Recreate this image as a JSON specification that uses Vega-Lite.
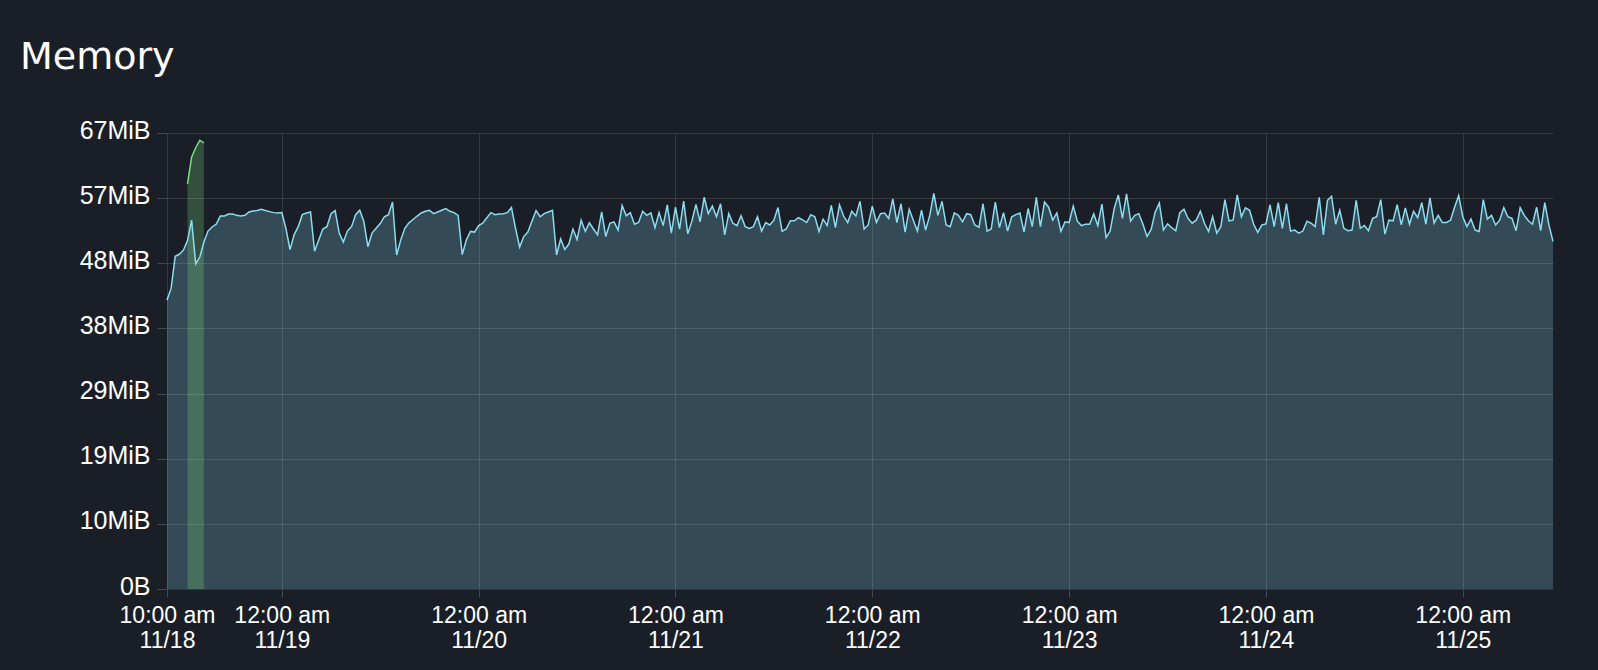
{
"$schema":"https://vega.github.io/schema/vega-lite/v6.json",
"width":1386,"height":456,
"autosize":{"type":"none"},
"padding":{"left":167,"top":133,"right":45,"bottom":81},
"background":"#1a1f27",
"title":{"text":"Memory","anchor":"start","frame":"group","dx":-147,"dy":-11,"offset":0,"baseline":"alphabetic","font":"DejaVu Sans","fontSize":38,"fontWeight":"normal","color":"#ffffff"},
"datasets":{
"a":[
{"t":"2024-11-18T10:00","v":42.3},{"t":"2024-11-18T10:30","v":44.0},{"t":"2024-11-18T11:00","v":48.7},{"t":"2024-11-18T11:30","v":49.0},
{"t":"2024-11-18T12:00","v":49.6},{"t":"2024-11-18T12:30","v":51.0},{"t":"2024-11-18T13:00","v":54.0},{"t":"2024-11-18T13:30","v":47.6},
{"t":"2024-11-18T14:00","v":48.6},{"t":"2024-11-18T14:30","v":50.8},{"t":"2024-11-18T15:00","v":52.4},{"t":"2024-11-18T15:30","v":53.0},
{"t":"2024-11-18T16:00","v":53.4},{"t":"2024-11-18T16:30","v":54.6},{"t":"2024-11-18T17:00","v":54.6},{"t":"2024-11-18T17:30","v":54.9},
{"t":"2024-11-18T18:00","v":54.9},{"t":"2024-11-18T18:30","v":54.7},{"t":"2024-11-18T19:00","v":54.6},{"t":"2024-11-18T19:30","v":54.7},
{"t":"2024-11-18T20:00","v":55.2},{"t":"2024-11-18T20:30","v":55.35},{"t":"2024-11-18T21:00","v":55.4},{"t":"2024-11-18T21:30","v":55.6},
{"t":"2024-11-18T22:00","v":55.4},{"t":"2024-11-18T22:30","v":55.25},{"t":"2024-11-18T23:00","v":55.1},{"t":"2024-11-18T23:30","v":55.05},
{"t":"2024-11-19T00:00","v":55.1},{"t":"2024-11-19T00:30","v":52.8},{"t":"2024-11-19T01:00","v":49.7},{"t":"2024-11-19T01:30","v":51.85},
{"t":"2024-11-19T02:00","v":53.05},{"t":"2024-11-19T02:30","v":54.8},{"t":"2024-11-19T03:00","v":55.05},{"t":"2024-11-19T03:30","v":55.2},
{"t":"2024-11-19T04:00","v":49.45},{"t":"2024-11-19T04:30","v":51.1},{"t":"2024-11-19T05:00","v":52.7},{"t":"2024-11-19T05:30","v":53.05},
{"t":"2024-11-19T06:00","v":54.95},{"t":"2024-11-19T06:30","v":55.4},{"t":"2024-11-19T07:00","v":52.1},{"t":"2024-11-19T07:30","v":50.8},
{"t":"2024-11-19T08:00","v":52.4},{"t":"2024-11-19T08:30","v":53.05},{"t":"2024-11-19T09:00","v":54.8},{"t":"2024-11-19T09:30","v":55.45},
{"t":"2024-11-19T10:00","v":53.8},{"t":"2024-11-19T10:30","v":50.1},{"t":"2024-11-19T11:00","v":52.1},{"t":"2024-11-19T11:30","v":52.8},
{"t":"2024-11-19T12:00","v":53.5},{"t":"2024-11-19T12:30","v":54.5},{"t":"2024-11-19T13:00","v":54.8},{"t":"2024-11-19T13:30","v":56.65},
{"t":"2024-11-19T14:00","v":48.9},{"t":"2024-11-19T14:30","v":51.1},{"t":"2024-11-19T15:00","v":52.8},{"t":"2024-11-19T15:30","v":53.6},
{"t":"2024-11-19T16:00","v":54.1},{"t":"2024-11-19T16:30","v":54.6},{"t":"2024-11-19T17:00","v":55.05},{"t":"2024-11-19T17:30","v":55.3},
{"t":"2024-11-19T18:00","v":55.45},{"t":"2024-11-19T18:30","v":54.95},{"t":"2024-11-19T19:00","v":55.2},{"t":"2024-11-19T19:30","v":55.45},
{"t":"2024-11-19T20:00","v":55.7},{"t":"2024-11-19T20:30","v":55.3},{"t":"2024-11-19T21:00","v":55.1},{"t":"2024-11-19T21:30","v":54.7},
{"t":"2024-11-19T22:00","v":48.95},{"t":"2024-11-19T22:30","v":51.1},{"t":"2024-11-19T23:00","v":52.35},{"t":"2024-11-19T23:30","v":52.25},
{"t":"2024-11-20T00:00","v":53.2},{"t":"2024-11-20T00:30","v":53.55},{"t":"2024-11-20T01:00","v":54.35},{"t":"2024-11-20T01:30","v":55.1},
{"t":"2024-11-20T02:00","v":54.8},{"t":"2024-11-20T02:30","v":54.9},{"t":"2024-11-20T03:00","v":54.95},{"t":"2024-11-20T03:30","v":55.1},
{"t":"2024-11-20T04:00","v":55.85},{"t":"2024-11-20T04:30","v":52.8},{"t":"2024-11-20T05:00","v":50.05},{"t":"2024-11-20T05:30","v":51.6},
{"t":"2024-11-20T06:00","v":52.25},{"t":"2024-11-20T06:30","v":53.85},{"t":"2024-11-20T07:00","v":55.4},{"t":"2024-11-20T07:30","v":54.5},
{"t":"2024-11-20T08:00","v":54.95},{"t":"2024-11-20T08:30","v":55.2},{"t":"2024-11-20T09:00","v":55.45},{"t":"2024-11-20T09:30","v":48.9},
{"t":"2024-11-20T10:00","v":51.25},{"t":"2024-11-20T10:30","v":49.7},{"t":"2024-11-20T11:00","v":50.5},{"t":"2024-11-20T11:30","v":52.7},
{"t":"2024-11-20T12:00","v":51.15},{"t":"2024-11-20T12:30","v":54.0},{"t":"2024-11-20T13:00","v":52.35},{"t":"2024-11-20T13:30","v":53.6},
{"t":"2024-11-20T14:00","v":52.7},{"t":"2024-11-20T14:30","v":51.85},{"t":"2024-11-20T15:00","v":55.2},{"t":"2024-11-20T15:30","v":51.6},
{"t":"2024-11-20T16:00","v":53.55},{"t":"2024-11-20T16:30","v":53.75},{"t":"2024-11-20T17:00","v":52.55},{"t":"2024-11-20T17:30","v":56.15},
{"t":"2024-11-20T18:00","v":54.65},{"t":"2024-11-20T18:30","v":55.1},{"t":"2024-11-20T19:00","v":53.4},{"t":"2024-11-20T19:30","v":53.65},
{"t":"2024-11-20T20:00","v":55.3},{"t":"2024-11-20T20:30","v":54.7},{"t":"2024-11-20T21:00","v":55.05},{"t":"2024-11-20T21:30","v":52.9},
{"t":"2024-11-20T22:00","v":55.1},{"t":"2024-11-20T22:30","v":53.2},{"t":"2024-11-20T23:00","v":56.25},{"t":"2024-11-20T23:30","v":52.1},
{"t":"2024-11-21T00:00","v":55.9},{"t":"2024-11-21T00:30","v":52.7},{"t":"2024-11-21T01:00","v":56.8},{"t":"2024-11-21T01:30","v":52.0},
{"t":"2024-11-21T02:00","v":53.85},{"t":"2024-11-21T02:30","v":56.3},{"t":"2024-11-21T03:00","v":53.75},{"t":"2024-11-21T03:30","v":57.35},
{"t":"2024-11-21T04:00","v":54.95},{"t":"2024-11-21T04:30","v":56.05},{"t":"2024-11-21T05:00","v":54.5},{"t":"2024-11-21T05:30","v":56.4},
{"t":"2024-11-21T06:00","v":51.85},{"t":"2024-11-21T06:30","v":54.95},{"t":"2024-11-21T07:00","v":53.55},{"t":"2024-11-21T07:30","v":53.2},
{"t":"2024-11-21T08:00","v":54.65},{"t":"2024-11-21T08:30","v":53.05},{"t":"2024-11-21T09:00","v":52.8},{"t":"2024-11-21T09:30","v":53.05},
{"t":"2024-11-21T10:00","v":54.5},{"t":"2024-11-21T10:30","v":52.4},{"t":"2024-11-21T11:00","v":53.65},{"t":"2024-11-21T11:30","v":53.3},
{"t":"2024-11-21T12:00","v":54.0},{"t":"2024-11-21T12:30","v":55.85},{"t":"2024-11-21T13:00","v":52.35},{"t":"2024-11-21T13:30","v":52.7},
{"t":"2024-11-21T14:00","v":53.9},{"t":"2024-11-21T14:30","v":53.9},{"t":"2024-11-21T15:00","v":54.35},{"t":"2024-11-21T15:30","v":54.05},
{"t":"2024-11-21T16:00","v":53.65},{"t":"2024-11-21T16:30","v":54.8},{"t":"2024-11-21T17:00","v":54.5},{"t":"2024-11-21T17:30","v":52.35},
{"t":"2024-11-21T18:00","v":54.15},{"t":"2024-11-21T18:30","v":53.2},{"t":"2024-11-21T19:00","v":56.15},{"t":"2024-11-21T19:30","v":52.9},
{"t":"2024-11-21T20:00","v":56.25},{"t":"2024-11-21T20:30","v":54.6},{"t":"2024-11-21T21:00","v":53.65},{"t":"2024-11-21T21:30","v":55.3},
{"t":"2024-11-21T22:00","v":54.6},{"t":"2024-11-21T22:30","v":56.75},{"t":"2024-11-21T23:00","v":52.7},{"t":"2024-11-21T23:30","v":53.3},
{"t":"2024-11-22T00:00","v":56.05},{"t":"2024-11-22T00:30","v":53.65},{"t":"2024-11-22T01:00","v":54.95},{"t":"2024-11-22T01:30","v":55.05},
{"t":"2024-11-22T02:00","v":54.25},{"t":"2024-11-22T02:30","v":57.1},{"t":"2024-11-22T03:00","v":53.65},{"t":"2024-11-22T03:30","v":56.4},
{"t":"2024-11-22T04:00","v":52.25},{"t":"2024-11-22T04:30","v":55.6},{"t":"2024-11-22T05:00","v":54.0},{"t":"2024-11-22T05:30","v":52.4},
{"t":"2024-11-22T06:00","v":55.45},{"t":"2024-11-22T06:30","v":52.55},{"t":"2024-11-22T07:00","v":54.65},{"t":"2024-11-22T07:30","v":57.9},
{"t":"2024-11-22T08:00","v":54.7},{"t":"2024-11-22T08:30","v":56.75},{"t":"2024-11-22T09:00","v":53.3},{"t":"2024-11-22T09:30","v":53.05},
{"t":"2024-11-22T10:00","v":55.05},{"t":"2024-11-22T10:30","v":54.7},{"t":"2024-11-22T11:00","v":53.75},{"t":"2024-11-22T11:30","v":54.95},
{"t":"2024-11-22T12:00","v":54.8},{"t":"2024-11-22T12:30","v":53.3},{"t":"2024-11-22T13:00","v":52.95},{"t":"2024-11-22T13:30","v":56.4},
{"t":"2024-11-22T14:00","v":52.4},{"t":"2024-11-22T14:30","v":52.7},{"t":"2024-11-22T15:00","v":56.65},{"t":"2024-11-22T15:30","v":52.9},
{"t":"2024-11-22T16:00","v":55.1},{"t":"2024-11-22T16:30","v":52.4},{"t":"2024-11-22T17:00","v":54.5},{"t":"2024-11-22T17:30","v":54.8},
{"t":"2024-11-22T18:00","v":55.05},{"t":"2024-11-22T18:30","v":52.25},{"t":"2024-11-22T19:00","v":55.7},{"t":"2024-11-22T19:30","v":53.05},
{"t":"2024-11-22T20:00","v":57.35},{"t":"2024-11-22T20:30","v":53.05},{"t":"2024-11-22T21:00","v":56.65},{"t":"2024-11-22T21:30","v":55.9},
{"t":"2024-11-22T22:00","v":54.0},{"t":"2024-11-22T22:30","v":55.05},{"t":"2024-11-22T23:00","v":52.35},{"t":"2024-11-22T23:30","v":53.75},
{"t":"2024-11-23T00:00","v":53.65},{"t":"2024-11-23T00:30","v":56.05},{"t":"2024-11-23T01:00","v":53.85},{"t":"2024-11-23T01:30","v":53.2},
{"t":"2024-11-23T02:00","v":53.4},{"t":"2024-11-23T02:30","v":53.4},{"t":"2024-11-23T03:00","v":54.9},{"t":"2024-11-23T03:30","v":53.2},
{"t":"2024-11-23T04:00","v":56.35},{"t":"2024-11-23T04:30","v":51.45},{"t":"2024-11-23T05:00","v":52.4},{"t":"2024-11-23T05:30","v":55.7},
{"t":"2024-11-23T06:00","v":57.7},{"t":"2024-11-23T06:30","v":54.25},{"t":"2024-11-23T07:00","v":57.85},{"t":"2024-11-23T07:30","v":53.85},
{"t":"2024-11-23T08:00","v":54.7},{"t":"2024-11-23T08:30","v":54.95},{"t":"2024-11-23T09:00","v":53.4},{"t":"2024-11-23T09:30","v":51.6},
{"t":"2024-11-23T10:00","v":52.65},{"t":"2024-11-23T10:30","v":55.2},{"t":"2024-11-23T11:00","v":56.5},{"t":"2024-11-23T11:30","v":52.55},
{"t":"2024-11-23T12:00","v":53.45},{"t":"2024-11-23T12:30","v":52.9},{"t":"2024-11-23T13:00","v":52.45},{"t":"2024-11-23T13:30","v":55.1},
{"t":"2024-11-23T14:00","v":55.6},{"t":"2024-11-23T14:30","v":54.25},{"t":"2024-11-23T15:00","v":53.55},{"t":"2024-11-23T15:30","v":54.0},
{"t":"2024-11-23T16:00","v":55.3},{"t":"2024-11-23T16:30","v":53.55},{"t":"2024-11-23T17:00","v":52.35},{"t":"2024-11-23T17:30","v":54.5},
{"t":"2024-11-23T18:00","v":52.1},{"t":"2024-11-23T18:30","v":53.05},{"t":"2024-11-23T19:00","v":57.0},{"t":"2024-11-23T19:30","v":53.9},
{"t":"2024-11-23T20:00","v":54.0},{"t":"2024-11-23T20:30","v":57.7},{"t":"2024-11-23T21:00","v":54.5},{"t":"2024-11-23T21:30","v":55.8},
{"t":"2024-11-23T22:00","v":55.45},{"t":"2024-11-23T22:30","v":53.4},{"t":"2024-11-23T23:00","v":52.2},{"t":"2024-11-23T23:30","v":53.3},
{"t":"2024-11-24T00:00","v":53.45},{"t":"2024-11-24T00:30","v":56.25},{"t":"2024-11-24T01:00","v":53.05},{"t":"2024-11-24T01:30","v":56.55},
{"t":"2024-11-24T02:00","v":52.8},{"t":"2024-11-24T02:30","v":56.4},{"t":"2024-11-24T03:00","v":52.4},{"t":"2024-11-24T03:30","v":52.55},
{"t":"2024-11-24T04:00","v":52.1},{"t":"2024-11-24T04:30","v":52.4},{"t":"2024-11-24T05:00","v":53.85},{"t":"2024-11-24T05:30","v":53.55},
{"t":"2024-11-24T06:00","v":53.05},{"t":"2024-11-24T06:30","v":57.35},{"t":"2024-11-24T07:00","v":51.85},{"t":"2024-11-24T07:30","v":56.9},
{"t":"2024-11-24T08:00","v":57.5},{"t":"2024-11-24T08:30","v":53.4},{"t":"2024-11-24T09:00","v":55.45},{"t":"2024-11-24T09:30","v":52.8},
{"t":"2024-11-24T10:00","v":52.45},{"t":"2024-11-24T10:30","v":52.55},{"t":"2024-11-24T11:00","v":56.9},{"t":"2024-11-24T11:30","v":52.8},
{"t":"2024-11-24T12:00","v":53.2},{"t":"2024-11-24T12:30","v":52.45},{"t":"2024-11-24T13:00","v":54.25},{"t":"2024-11-24T13:30","v":54.5},
{"t":"2024-11-24T14:00","v":57.0},{"t":"2024-11-24T14:30","v":51.95},{"t":"2024-11-24T15:00","v":54.0},{"t":"2024-11-24T15:30","v":53.9},
{"t":"2024-11-24T16:00","v":56.25},{"t":"2024-11-24T16:30","v":53.3},{"t":"2024-11-24T17:00","v":55.8},{"t":"2024-11-24T17:30","v":53.4},
{"t":"2024-11-24T18:00","v":55.3},{"t":"2024-11-24T18:30","v":54.35},{"t":"2024-11-24T19:00","v":56.55},{"t":"2024-11-24T19:30","v":53.4},
{"t":"2024-11-24T20:00","v":57.25},{"t":"2024-11-24T20:30","v":53.55},{"t":"2024-11-24T21:00","v":54.7},{"t":"2024-11-24T21:30","v":53.65},
{"t":"2024-11-24T22:00","v":53.65},{"t":"2024-11-24T22:30","v":54.0},{"t":"2024-11-24T23:00","v":55.9},{"t":"2024-11-24T23:30","v":57.6},
{"t":"2024-11-25T00:00","v":54.5},{"t":"2024-11-25T00:30","v":53.05},{"t":"2024-11-25T01:00","v":54.15},{"t":"2024-11-25T01:30","v":52.55},
{"t":"2024-11-25T02:00","v":52.35},{"t":"2024-11-25T02:30","v":57.0},{"t":"2024-11-25T03:00","v":54.15},{"t":"2024-11-25T03:30","v":54.7},
{"t":"2024-11-25T04:00","v":53.3},{"t":"2024-11-25T04:30","v":54.0},{"t":"2024-11-25T05:00","v":55.85},{"t":"2024-11-25T05:30","v":54.5},
{"t":"2024-11-25T06:00","v":54.25},{"t":"2024-11-25T06:30","v":52.45},{"t":"2024-11-25T07:00","v":55.8},{"t":"2024-11-25T07:30","v":54.7},
{"t":"2024-11-25T08:00","v":53.9},{"t":"2024-11-25T08:30","v":53.4},{"t":"2024-11-25T09:00","v":55.9},{"t":"2024-11-25T09:30","v":52.45},
{"t":"2024-11-25T10:00","v":56.55},{"t":"2024-11-25T10:30","v":53.3},{"t":"2024-11-25T11:00","v":50.9}
],
"b":[
{"t":"2024-11-18T12:30","v":59.3},{"t":"2024-11-18T13:00","v":63.2},{"t":"2024-11-18T13:30","v":64.6},{"t":"2024-11-18T14:00","v":65.7},{"t":"2024-11-18T14:30","v":65.3}
]
},
"encoding":{
"x":{"field":"t","type":"temporal",
"scale":{"domain":[{"year":2024,"month":11,"date":18,"hours":10},{"year":2024,"month":11,"date":25,"hours":11}]},
"axis":{"title":null,"values":[
{"year":2024,"month":11,"date":18,"hours":10},{"year":2024,"month":11,"date":19},{"year":2024,"month":11,"date":20},{"year":2024,"month":11,"date":21},
{"year":2024,"month":11,"date":22},{"year":2024,"month":11,"date":23},{"year":2024,"month":11,"date":24},{"year":2024,"month":11,"date":25}],
"labelExpr":"[lower(timeFormat(datum.value, '%I:%M %p')), timeFormat(datum.value, '%m/%d')]",
"labelFont":"Liberation Sans","labelFontSize":23,"labelColor":"#ffffff","labelLineHeight":25,"labelPadding":7,
"labelFlush":false,"labelOverlap":false,"tickSize":8,"tickColor":"#45484f","domainColor":"#34373e",
"grid":true,"gridColor":"#ffffff","gridOpacity":0.12,"zindex":1}},
"y":{"field":"v","type":"quantitative","stack":null,
"scale":{"domain":[0,66.7572],"nice":false,"zero":true},
"axis":{"title":null,"values":[0,9.5367,19.0735,28.6102,38.147,47.6837,57.2205,66.7572],
"labelExpr":"datum.value == 0 ? '0B' : format(datum.value, '.0f') + 'MiB'",
"labelFont":"Liberation Sans","labelFontSize":25,"labelColor":"#ffffff","labelPadding":7,"labelOffset":-3,
"tickSize":10,"tickColor":"#45484f","domain":false,
"grid":true,"gridColor":"#ffffff","gridOpacity":0.12,"zindex":1}}
},
"layer":[
{"data":{"name":"a"},"mark":{"type":"area","color":"#8cdcf0","opacity":0.23}},
{"data":{"name":"b"},"mark":{"type":"area","color":"#7ee07e","opacity":0.25}},
{"data":{"name":"a"},"mark":{"type":"line","color":"#8cdcf0","strokeWidth":1.5}},
{"data":{"name":"b"},"mark":{"type":"line","color":"#7ee07e","strokeWidth":1.5}}
],
"config":{"view":{"stroke":null}}
}
